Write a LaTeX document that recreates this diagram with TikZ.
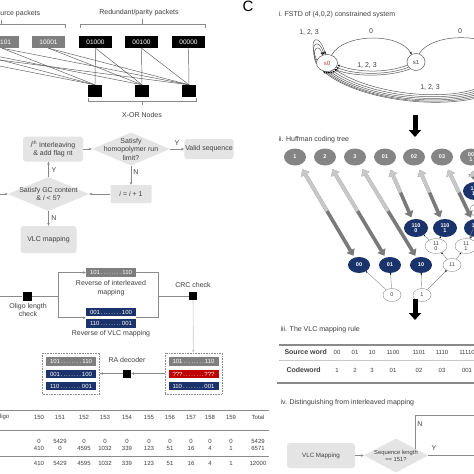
\documentclass[tikz,border=0pt]{standalone}
\usepackage{fontspec}
\setmainfont{Liberation Sans}
\usetikzlibrary{arrows.meta,positioning,shapes.geometric,calc}
\definecolor{PktGray}{HTML}{7F7F7F}
\definecolor{NavyFill}{HTML}{1A336B}
\definecolor{ErrRed}{HTML}{C00000}
\definecolor{BoxGray}{HTML}{E4E4E4}
\definecolor{LineGray}{HTML}{8A8A8A}
\definecolor{WireGray}{HTML}{5A5A5A}
\definecolor{TxtGray}{HTML}{3F3F3F}
\definecolor{HuffGray}{HTML}{858585}
\definecolor{ArrLight}{HTML}{C8C8C8}
\definecolor{ArrDark}{HTML}{7A7A7A}
\definecolor{StateRed}{HTML}{C0392B}
\newcommand\segtxt[2]{\makebox[42pt]{#1\dotfill#2}}
\newcommand\hufflink[2]{\draw[bigdark] (#1) -- (#2); \draw[biglight] ($(#1)!0.5!(#2)$) -- (#1);}

\begin{document}
\begin{tikzpicture}[x=1pt,y=-1pt,font=\fontsize{7}{8.5}\selectfont,text=TxtGray,
pkt/.style={minimum width=33pt,minimum height=12pt,inner sep=0pt,text=white,font=\fontsize{6.5}{7}\selectfont},
srcpkt/.style={pkt,fill=PktGray},
parpkt/.style={pkt,fill=black},
xornd/.style={fill=black,minimum width=14pt,minimum height=12pt,inner sep=0pt},
chk/.style={fill=black,minimum size=8pt,inner sep=0pt},
wire/.style={draw=WireGray,line width=0.45pt},
brace/.style={draw=LineGray,line width=0.6pt},
flowbox/.style={fill=BoxGray,rounded corners=3pt,align=center,inner sep=1pt},
decide/.style={diamond,fill=BoxGray,inner sep=0pt},
arr/.style={-{Stealth[length=3pt,width=2.6pt]},draw=LineGray,line width=0.6pt},
link/.style={draw=LineGray,line width=0.6pt},
seg/.style={minimum width=50pt,minimum height=8.5pt,inner sep=0pt,text=white,font=\fontsize{6}{6}\selectfont},
dotbox/.style={draw=LineGray,densely dotted,line width=0.6pt,minimum width=57pt,minimum height=41pt,inner sep=0pt},
fsstate/.style={ellipse,draw=WireGray,line width=0.5pt,fill=white,minimum width=21pt,minimum height=17pt,inner sep=0pt,font=\fontsize{6}{6}\selectfont},
fsarr/.style={-{Stealth[length=2.6pt,width=2.2pt,color=black]},draw=WireGray,line width=0.5pt},
topnd/.style={ellipse,fill=HuffGray,text=white,minimum width=22pt,minimum height=17pt,inner sep=0pt,align=center,font=\fontsize{5.5}{5.5}\selectfont\bfseries},
leafnd/.style={topnd,fill=NavyFill,minimum height=16pt},
innd/.style={ellipse,draw=LineGray,fill=white,text=TxtGray,minimum width=18pt,minimum height=13pt,inner sep=0pt,align=center,font=\fontsize{5.5}{5.5}\selectfont},
treeedge/.style={-{Circle[length=1.5pt,color=black]},draw=LineGray,line width=0.4pt},
bigdark/.style={{Triangle[length=6pt,width=9pt]}-{Triangle[length=6pt,width=9pt]},draw=ArrDark,line width=3.6pt,shorten <=5pt,shorten >=2pt},
biglight/.style={-{Triangle[length=6pt,width=9pt]},draw=ArrLight,line width=3.6pt,shorten >=5pt},
stepdown/.style={-{Triangle[length=7pt,width=12pt]},draw=black,line width=5pt},
heading/.style={anchor=west},
cell/.style={inner sep=0pt,font=\fontsize{6}{7}\selectfont},
rule/.style={draw=LineGray,line width=0.8pt}
]
\useasboundingbox (0,0) rectangle (474,474);
\fill[white] (0,0) rectangle (474,474);
\clip (0,0) rectangle (474,474);

% packets and X-OR nodes
\node (srclab) at (16,14) {Source packets};
\node (parlab) at (139,13) {Redundant/parity packets};
\draw[brace] (-62,28) -- (-62,24) -- (65,24) -- (65,28);
\draw[brace] (1,24) -- (1,20);
\draw[brace] (80,28) -- (80,24) -- (205,24) -- (205,28);
\draw[brace] (142,24) -- (142,19);
\coordinate (src0) at (-92,48);
\coordinate (src1) at (-45,48);
\node[srcpkt] (src2) at (2,42) {10101};
\node[srcpkt] (src3) at (48.5,42) {10001};
\node[parpkt] (par1) at (95.5,42) {01000};
\node[parpkt] (par2) at (141.5,42) {00100};
\node[parpkt] (par3) at (188.5,42) {00000};
\node[xornd] (xor1) at (95,91) {};
\node[xornd] (xor2) at (142,91) {};
\node[xornd] (xor3) at (189,91) {};
\foreach \a/\b in {src0/xor1,src0/xor3,src1/xor1,src1/xor2}
  \draw[wire] (\a) -- (\b.north);
\foreach \a/\b in {src2/xor1,src2/xor3,src3/xor2,src3/xor3,par1/xor1,par1/xor2,par2/xor2,par2/xor3,par3/xor3}
  \draw[wire] (\a.south) -- (\b.north);
\draw[brace] (88,98) -- (88,101) -- (196,101) -- (196,98);
\draw[brace] (142,101) -- (142,105);
\node (xorlab) at (142,115) {X-OR Nodes};

% interleaving flow
\coordinate (gcin) at (-10,194);
\node[flowbox,minimum width=60pt,minimum height=25pt] (ilv) at (53,149) {\textit{i}\textsuperscript{th} Interleaving\\\& add flag nt};
\node[decide,minimum width=78pt,minimum height=33pt,label={[align=center]center:Satisfy\\homopolymer run\\limit?}] (homo) at (131,149) {};
\node[flowbox,minimum width=46pt,minimum height=20pt] (valid) at (209,149) {Valid sequence};
\node[flowbox,rounded corners=1pt,minimum width=41pt,minimum height=18pt] (incr) at (131,194) {\textit{i} = \textit{i} + 1};
\node[decide,minimum width=81pt,minimum height=34pt,label={[align=center]center:Satisfy GC content\\\& \textit{i} < 5?}] (gc) at (48.5,194) {};
\node[flowbox,minimum width=56pt,minimum height=27pt] (vlcmap) at (48.5,239.5) {VLC mapping};
\draw[arr] (ilv) -- (homo);
\draw[arr] (homo) -- (valid);
\draw[arr] (homo) -- (incr);
\draw[arr] (incr) -- (gc);
\draw[arr] (gc.north) -- (gc.north |- ilv.south);
\draw[arr] (gc) -- (vlcmap);
\draw[arr] (gcin) -- (gc);
\node (yhomo) at (177,143) {Y};
\node (nhomo) at (136,172) {N};
\node (ygc) at (54,170) {Y};
\node (ngc) at (54,218) {N};

% decoding
\coordinate (olin) at (-10,296);
\coordinate (split) at (58,296);
\coordinate (merge) at (158,296);
\node[chk,minimum size=9pt] (olchk) at (27,296) {};
\node[align=center] (ollab) at (28,310) {Oligo length\\check};
\node[seg,fill=PktGray] (revi) at (111,272.5) {\segtxt{101}{110}};
\node[align=center] (revilab) at (111,288) {Reverse of interleaved\\mapping};
\node[seg,fill=NavyFill] (vlca) at (111,312) {\segtxt{001}{100}};
\node[seg,fill=NavyFill] (vlcb) at (111,323.5) {\segtxt{110}{001}};
\node (revvlab) at (111,334) {Reverse of VLC mapping};
\coordinate (vlcin) at ($(vlca.south west)!0.5!(vlcb.north west)$);
\coordinate (vlcout) at ($(vlca.south east)!0.5!(vlcb.north east)$);
\draw[link] (olin) -- (olchk) -- (split);
\draw[arr] (split) |- (revi);
\draw[arr] (split) |- (vlcin);
\draw[link] (revi) -| (merge);
\draw[link] (vlcout) -| (merge);
\node[chk] (crc) at (193,296) {};
\node (crclab) at (193,285) {CRC check};
\draw[link] (merge) -- (crc);
\node[dotbox] (rbox) at (193.5,373.5) {};
\node[seg,fill=PktGray] (rseg1) at (193.5,361.5) {\segtxt{101}{110}};
\node[seg,fill=ErrRed] (rseg2) at (193.5,374) {\segtxt{???}{???}};
\node[seg,fill=NavyFill] (rseg3) at (193.5,386) {\segtxt{110}{001}};
\node[dotbox] (lbox) at (71,373.5) {};
\node[seg,fill=PktGray] (lseg1) at (71,361.5) {\segtxt{101}{110}};
\node[seg,fill=NavyFill] (lseg2) at (71,374) {\segtxt{001}{100}};
\node[seg,fill=NavyFill] (lseg3) at (71,386) {\segtxt{110}{001}};
\node[chk] (radec) at (127,373.5) {};
\node (ralab) at (127,360) {RA decoder};
\draw[arr,draw=ArrLight] (crc) -- (rbox);
\draw[arr] (rbox) -- (radec);
\draw[arr] (radec) -- (lbox);

% length table
\draw[rule] (-5,410) -- (269,410);
\draw[rule] (-5,430) -- (269,430);
\draw[rule] (-5,456) -- (269,456);
\node[cell,anchor=east] (hdr0) at (9.5,417) {Oligo};
\foreach \x/\h/\a/\b/\t [count=\c] in {39/150/0/410/410,60/151/5429/0/5429,84/152/0/4595/4595,105/153/0/1032/1032,127/154/0/339/339,149/155/0/123/123,170/156/0/51/51,191/157/0/16/16,210/158/0/4/4,231/159/0/1/1,258/Total/5429/6571/12000}
{
  \node[cell] (hd\c) at (\x,417) {\h};
  \node[cell] (rowa\c) at (\x,441) {\a};
  \node[cell] (rowb\c) at (\x,448) {\b};
  \node[cell] (tot\c) at (\x,463) {\t};
}

% panel C: FSTD
\node[font=\fontsize{15}{15}\selectfont,text=black] (panc) at (248,6) {C};
\node[heading] (fstdttl) at (275,15) {i. FSTD of (4,0,2) constrained system};
\node[fsstate,text=StateRed] (s0) at (327,63) {s0};
\node[fsstate,minimum width=18pt] (s1) at (416,62) {s1};
\coordinate (s2) at (500,66);
\coordinate (s2top) at (505,55);
\foreach \a/\b/\s in {165/100/1.0,175/110/0.8,185/120/0.6}
  \draw[fsarr] (s0.\a) .. controls +(-10*\s,-24*\s) and +(-6*\s,-22*\s) .. (s0.\b);
\draw[fsarr] (s0.60) .. controls +(12,-22) and +(-12,-22) .. (s1.120);
\draw[fsarr] (s1.70) .. controls +(14,-22) and +(-14,-22) .. (s2top);
\foreach \a/\b in {200/-10,215/-25,230/-40}
  \draw[fsarr] (s1.\a) .. controls +(-20,8) and +(20,8) .. (s0.\b);
\foreach \k/\e in {0/-40,1/-55,2/-70,3/-85,4/-100,5/-115}
  \draw[fsarr] ($(s2)+(2*\k,1.5*\k)$) .. controls +(-6,40) and +(48,32+1.5*\k) .. (s0.\e);
\node (loop123) at (309,33) {1, 2, 3};
\node (zero01) at (371,31) {0};
\node (back123) at (367,66) {1, 2, 3};
\node (zero12) at (460,31) {0};
\node (far123) at (430,88) {1, 2, 3};
\coordinate (downa) at (415,115);
\coordinate (downb) at (415,137);
\draw[stepdown] (downa) -- (downb);

% Huffman tree
\node[heading] (huffttl) at (275,140) {ii. Huffman coding tree};
\foreach \x/\t/\n in {295/1/t1,325/2/t2,355/3/t3,385/01/t01,414/02/t02,442/03/t03}
  \node[topnd] (\n) at (\x,157) {\t};
\node[topnd] (t001) at (471,157) {00\\1};
\node[leafnd] (l00) at (359,265) {00};
\node[leafnd] (l01) at (390,265) {01};
\node[leafnd] (l10) at (421,265) {10};
\node[innd] (n11) at (452,265) {11};
\node[innd] (n0) at (392,295) {0};
\node[innd] (n1) at (422,295) {1};
\node[innd,minimum width=22pt,minimum height=15pt] (n110) at (436,246) {11\\0};
\node[innd,minimum width=22pt,minimum height=15pt] (n111) at (466,246) {11\\1};
\node[leafnd,minimum width=24pt,minimum height=18pt] (l1100) at (416,228) {110\\0};
\node[leafnd,minimum width=24pt,minimum height=18pt] (l1101) at (445,228) {110\\1};
\node[leafnd,minimum width=24pt,minimum height=18pt] (l1110) at (476,228) {111\\0};
\node[innd,minimum width=22pt,minimum height=15pt] (n1111) at (481,210) {111\\1};
\node[leafnd,minimum width=24pt,minimum height=18pt] (l11110) at (475,191) {111\\10};
\foreach \a/\b in {n0/l00,n0/l01,n1/l10,n1/n11,n11/n110,n11/n111,n110/l1100,n110/l1101,n111/l1110,n111/n1111,n1111/l11110}
  \draw[treeedge] (\a) -- (\b);
\hufflink{t1}{l00}
\hufflink{t2}{l01}
\hufflink{t3}{l10}
\hufflink{t01}{l1100}
\hufflink{t02}{l1101}
\hufflink{t03}{l1110}
\hufflink{t001}{l11110}
\coordinate (downc) at (415,299);
\coordinate (downd) at (415,320);
\draw[stepdown] (downc) -- (downd);

% VLC mapping rule
\node[heading] (vlcttl) at (277,330) {iii. The VLC mapping rule};
\draw[rule,line width=1.5pt] (279,345) -- (480,345);
\draw[rule,draw=ArrLight,line width=0.5pt] (279,360) -- (480,360);
\draw[rule,line width=1.5pt] (277,383) -- (480,383);
\node[heading,font=\fontsize{7}{8}\selectfont\bfseries] (srcword) at (281,352) {Source word};
\node[heading,font=\fontsize{7}{8}\selectfont\bfseries] (codeword) at (283,370) {Codeword};
\foreach \x/\s/\w [count=\k] in {337/00/1,355/01/2,372/10/3,393/1100/01,419/1101/02,442/1110/03,467/11110/001}
{
  \node[cell] (sw\k) at (\x,352) {\s};
  \node[cell] (cw\k) at (\x,370) {\w};
}

% distinguishing flow
\node[heading] (distttl) at (277,403) {iv. Distinguishing from interleaved mapping};
\node[flowbox,minimum width=68pt,minimum height=25pt,font=\fontsize{6.2}{7}\selectfont] (vlcm2) at (321,455.5) {VLC Mapping};
\node[decide,minimum width=64pt,minimum height=34pt,label={[align=center,font=\fontsize{5.8}{7}\selectfont]center:Sequence length\\== 151?}] (seqlen) at (396,455.5) {};
\coordinate (nstart) at ($(seqlen.north)!0.6!(seqlen.east)$);
\coordinate (nout) at (480,415);
\coordinate (yout) at (480,455.5);
\draw[arr] (vlcm2) -- (seqlen);
\draw[link] (nstart) |- (nout);
\draw[link] (seqlen) -- (yout);
\node (yseq) at (434,448) {Y};
\node (nseq) at (420,424) {N};
\end{tikzpicture}
\end{document}
